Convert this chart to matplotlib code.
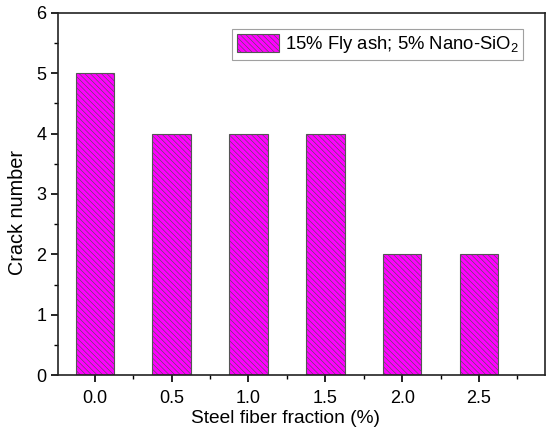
import matplotlib.pyplot as plt
from matplotlib.ticker import MultipleLocator

# data
fiber = [0.0, 0.5, 1.0, 1.5, 2.0, 2.5]
cracks = [5, 4, 4, 4, 2, 2]
tick_labels = ['0.0', '0.5', '1.0', '1.5', '2.0', '2.5']
series_name = '15% Fly ash; 5% Nano-SiO$_2$'

plt.rcParams['font.family'] = ['Liberation Sans', 'DejaVu Sans']
plt.rcParams['mathtext.fontset'] = 'custom'
plt.rcParams['mathtext.rm'] = 'Liberation Sans'
plt.rcParams['hatch.linewidth'] = 0.45
plt.rcParams['hatch.color'] = '#3a3a3a'

fig = plt.figure(figsize=(5.5, 4.34), dpi=100)
ax = fig.add_axes([58/550, 1 - 375/434, (545-58)/550, (375-13)/434])

ax.bar(fiber, cracks, width=0.25, color='#ff00ff', edgecolor='#555555',
       linewidth=0.8, hatch='\\\\\\\\\\\\', label=series_name)

ax.set_xlim(-0.24, 2.93)
ax.set_ylim(0, 6)
ax.set_xticks(fiber)
ax.set_xticklabels(tick_labels)
ax.xaxis.set_minor_locator(MultipleLocator(0.25))
ax.yaxis.set_major_locator(MultipleLocator(1))
ax.yaxis.set_minor_locator(MultipleLocator(0.5))

ax.tick_params(which='major', direction='out', length=5, width=1.2, labelsize=13,
               top=False, right=False)
ax.tick_params(axis='x', which='major', pad=6)
ax.tick_params(which='minor', direction='out', length=3, width=1.0,
               top=False, right=False)
for s in ax.spines.values():
    s.set_linewidth(1.2)
    s.set_color('#222222')

ax.set_xlabel('Steel fiber fraction (%)', fontsize=13.8)
ax.set_ylabel('Crack number', fontsize=14.3)
ax.xaxis.set_label_coords(0.467, -0.097)
ax.yaxis.set_label_coords(-0.063, 0.45)

leg = ax.legend(loc='upper right', bbox_to_anchor=(0.955, 0.955), fontsize=13.3,
                frameon=True, fancybox=False, handlelength=2.3, handleheight=1.1,
                borderpad=0.25, handletextpad=0.3, borderaxespad=0)
leg.get_frame().set_edgecolor('#888888')
leg.get_frame().set_linewidth(0.8)

plt.savefig('out.png', dpi=100)
